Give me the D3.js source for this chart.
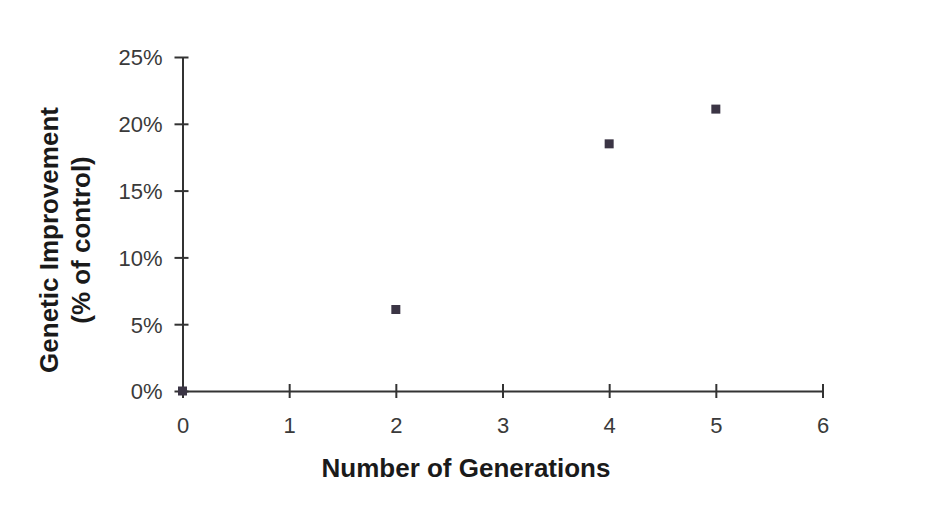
<!DOCTYPE html>
<html>
<head>
<meta charset="utf-8">
<script src="https://cdn.jsdelivr.net/npm/d3@7"></script>
<style>
  body { margin: 0; background: #fff; }
  svg text { font-family: "Liberation Sans", Arial, sans-serif; }
  .tick text { font-size: 22px; fill: #3a3a3a; }
  .title { font-size: 26px; font-weight: bold; fill: #1a1a1a; }
</style>
</head>
<body>
<div id="chart"></div>
<script>
// data
const generations = [0, 2, 4, 5];
const improvement = [0, 0.061, 0.185, 0.211];
const xTicks = [0, 1, 2, 3, 4, 5, 6];
const yTicks = [0, 0.05, 0.10, 0.15, 0.20, 0.25];

const width = 936, height = 526;
const svg = d3.select("#chart").append("svg")
  .attr("width", width).attr("height", height);

// plot area
const x = d3.scaleLinear().domain([0, 6]).range([182.5, 822.5]);
const y = d3.scaleLinear().domain([0, 0.25]).range([391, 57]);

const axisColor = "#333";

// x axis, ticks crossing the line
const xAxis = svg.append("g").attr("transform", "translate(0," + y(0) + ")")
  .call(d3.axisBottom(x).tickValues(xTicks).tickSize(7).tickSizeOuter(0).tickPadding(19)
    .tickFormat(d3.format("d")));
xAxis.select(".domain").attr("stroke", axisColor).attr("stroke-width", 2);
xAxis.selectAll(".tick line").attr("stroke", axisColor).attr("stroke-width", 2).attr("y1", -7);

// y axis
const yAxis = svg.append("g").attr("transform", "translate(" + x(0) + ",0)")
  .call(d3.axisLeft(y).tickValues(yTicks).tickSize(8).tickSizeOuter(0).tickPadding(12)
    .tickFormat(d3.format(".0%")));
yAxis.select(".domain").attr("stroke", axisColor).attr("stroke-width", 2);
yAxis.selectAll(".tick line").attr("stroke", axisColor).attr("stroke-width", 2).attr("x1", 6);
yAxis.selectAll(".tick text").attr("dy", "0.36em");

// markers
svg.append("g").selectAll("rect").data(generations).enter().append("rect")
  .attr("x", (d) => x(d) - 4.5)
  .attr("y", (d, i) => y(improvement[i]) - 4.5)
  .attr("width", 9).attr("height", 9)
  .attr("fill", "#3b3545");

// axis titles
svg.append("text").classed("title", true)
  .attr("x", 466).attr("y", 477)
  .attr("text-anchor", "middle")
  .text("Number of Generations");

const yTitle = svg.append("g").attr("transform", "translate(58,240) rotate(-90)");
yTitle.append("text").classed("title", true)
  .attr("text-anchor", "middle").attr("y", 0)
  .text("Genetic Improvement");
yTitle.append("text").classed("title", true)
  .attr("text-anchor", "middle").attr("y", 32)
  .text("(% of control)");
</script>
</body>
</html>
